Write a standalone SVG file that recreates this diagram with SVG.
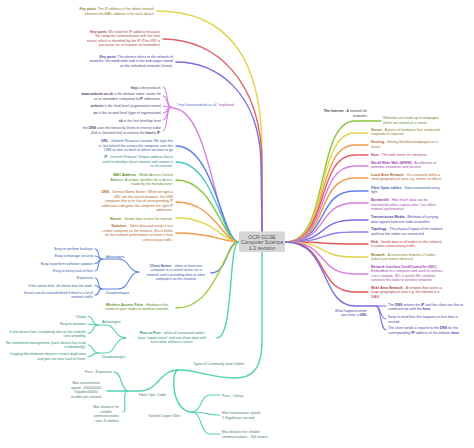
<svg xmlns="http://www.w3.org/2000/svg" width="474" height="448" viewBox="0 0 474 448">
<style>
text{font-family:"Liberation Sans",Arial,sans-serif;font-size:3.5px}
.b{font-weight:bold}
.e{text-anchor:end}
.m{text-anchor:middle}
path{fill:none;stroke-linecap:round}
.L{stroke-width:1.4}
.s{stroke-width:1.1}
.yel{stroke:#e3d54a}.red{stroke:#e0606a}.ind{stroke:#7b6ee0}.pink{stroke:#d780e0}.blu{stroke:#5a82e0}
.teal{stroke:#4cc5c8}.grn{stroke:#8cc63f}.org{stroke:#f19a4c}.mint{stroke:#52d1b2}.lime{stroke:#9bcc3c}
.hub{stroke:#e05a5a}.top{stroke:#9080ea}
.cy{fill:#8a7c25}.cr{fill:#a8444c}.ci{fill:#4b3f9e}.cp{fill:#5a4470}.cb{fill:#3a58a8}.ct{fill:#2a8686}
.cg{fill:#5e8a26}.co{fill:#b0652a}.cm{fill:#2b8a74}.cv{fill:#9a48a8}.ch{fill:#b03a3a}.ck{fill:#444}.cc{fill:#4a7a70}
</style>
<rect width="474" height="448" fill="#fff"/>
<g id="connectors">
<path class="L yel" d="M157,11 C225,11 262,55 262,150 L262,232"/>
<path class="L red" d="M163,39 C215,39 262,80 262,165 L262,232"/>
<path class="L ind" d="M176,62 C215,62 260,90 261,165 L262,232"/>
<path class="L pink" d="M172,108 C212,108 215,242 239,242"/>
<path class="s pink" d="M163,87 C168,87 166,107 171,107"/>
<path class="s pink" d="M163,96 C168,96 166,107 171,107"/>
<path class="s pink" d="M163,106 C168,106 166,107 171,107"/>
<path class="s pink" d="M163,113 C168,113 166,107 171,107"/>
<path class="s pink" d="M163,120 C168,120 166,107 171,107"/>
<path class="s pink" d="M163,131 C168,131 166,107 171,107"/>
<path class="L blu" d="M176,146 C215,146 222,242 239,242"/>
<path class="L teal" d="M176,162 C215,162 222,242 239,242"/>
<path class="L grn" d="M176,180 C215,180 222,242 239,242"/>
<path class="L org" d="M176,202 C215,202 222,242 239,242"/>
<path class="L yel" d="M176,218 C215,218 222,242 239,242"/>
<path class="L org" d="M176,233 C215,233 222,242 239,242"/>
<path class="L blu" d="M211,273 C228,273 226,242 239,242"/>
<path class="s blu" d="M139,272 C128,272 130,259 118,259 L102,259"/>
<path class="s blu" d="M139,272 C128,272 130,289 118,289 L102,289"/>
<path class="s blu" d="M102,259 C97,259 100,249 95,249"/>
<path class="s blu" d="M102,259 C97,259 100,256 95,256"/>
<path class="s blu" d="M102,259 C97,259 100,263.5 95,263.5"/>
<path class="s blu" d="M102,259 C97,259 100,271 95,271"/>
<path class="s blu" d="M102,289 C97,289 100,278 95,278"/>
<path class="s blu" d="M102,289 C97,289 100,285.5 95,285.5"/>
<path class="s blu" d="M102,289 C97,289 100,295 95,295"/>
<path class="L lime" d="M176,308 C218,308 224,242 239,242"/>
<path class="L mint" d="M217,338 C234,338 228,242 239,242"/>
<path class="s mint" d="M126,338 C114,338 116,325 106,325 L98,325"/>
<path class="s mint" d="M126,338 C114,338 116,353 106,353 L98,353"/>
<path class="s mint" d="M98,325 C92,325 94,316.5 88,316.5"/>
<path class="s mint" d="M98,325 C92,325 94,324 88,324"/>
<path class="s mint" d="M98,325 C92,325 94,333.5 88,333.5"/>
<path class="s mint" d="M98,353 C92,353 94,345 88,345"/>
<path class="s mint" d="M98,353 C92,353 94,356.5 88,356.5"/>
<path class="L mint" d="M262,252 L262,340 C262,372 250,378 235,378 C210,378 195,369 178,370"/>
<path class="L mint" d="M178,370 C160,370 158,391 140,391 L107,391"/>
<path class="s mint" d="M128,391 C121,391 122,372 114,372"/>
<path class="s mint" d="M128,391 C121,391 128,412 123,412"/>
<path class="L mint" d="M178,370 C170,372 172,412 192,412"/>
<path class="s mint" d="M192,412 C202,412 200,395 210,395 L220,395"/>
<path class="s mint" d="M192,412 C202,412 210,415 220,415"/>
<path class="s mint" d="M192,412 C202,412 200,434 210,434 L220,434"/>
<path class="L grn" d="M286,242 C330,242 315,121 355,121 L381,121"/>
<path class="L yel" d="M286,242 C330,242 315,133 355,133 L368,133"/>
<path class="L org" d="M286,242 C330,242 315,145 355,145 L368,145"/>
<path class="L red" d="M286,242 C330,242 315,155 355,155 L368,155"/>
<path class="L pink" d="M286,242 C330,242 315,166 355,166 L368,166"/>
<path class="L org" d="M286,242 C330,242 315,178 355,178 L368,178"/>
<path class="L blu" d="M286,242 C330,242 315,191 355,191 L368,191"/>
<path class="L pink" d="M286,242 C330,242 315,203 355,203 L368,203"/>
<path class="L ind" d="M286,242 C330,242 315,220 355,220 L368,220"/>
<path class="L top" d="M286,242 C330,242 315,232 355,232 L368,232"/>
<path class="L hub" d="M286,242 C330,242 315,244 355,244 L368,244"/>
<path class="L yel" d="M286,242 C330,242 315,257 355,257 L368,257"/>
<path class="L pink" d="M286,242 C330,242 315,274 355,274 L368,274"/>
<path class="L hub" d="M286,242 C330,242 315,292 355,292 L368,292"/>
<path class="L ind" d="M286,242 C330,242 320,306 355,306 L376,306"/>
<path class="s ind" d="M376,306 L386,306"/>
<path class="s ind" d="M376,306 C381,306 380,319 386,319"/>
<path class="s ind" d="M376,306 C381,306 380,330 386,330"/>
</g>
<g id="center">
<rect x="239" y="231.5" width="46" height="20.5" fill="#d6d6d6"/>
<text class="m" x="262" y="238.5" style="font-size:5.2px" fill="#555">OCR GCSE</text>
<text class="m" x="262" y="244" style="font-size:5.2px" fill="#555">Computer Science</text>
<text class="m" x="262" y="249.5" style="font-size:5.2px" fill="#555">1.3 revision</text>
</g>
<g id="kp1" class="cy"><text class="e" x="154" y="10"><tspan class="b">Key point:</tspan> The IP address is the whole network</text><text class="e" x="154" y="14.5">whereas the MAC address is for each device</text></g>
<g id="kp2" class="cr"><text class="e" x="160" y="32.5"><tspan class="b">Key point:</tspan> We need the IP address because</text><text class="e" x="160" y="37">the computer communicates with the host</text><text class="e" x="160" y="41.5">server, which is identified by the IP (The URL is</text><text class="e" x="160" y="46">just easier for us humans to remember)</text></g>
<g id="kp3" class="ci"><text class="e" x="173" y="57.5"><tspan class="b">Key point:</tspan> The internet refers to the network of</text><text class="e" x="173" y="62">networks, the world wide web is the web pages stored</text><text class="e" x="173" y="66.5">on the individual networks (hosts).</text></g>
<g id="urlx"><text x="177" y="106"><tspan fill="#5b6ed8">"http://www.website.ac.uk"</tspan><tspan fill="#9a48a8"> explained</tspan></text></g>
<g id="urlparts" class="cp">
<text class="e" x="161" y="88.5"><tspan class="b">http</tspan> is the protocol.</text>
<text class="e" x="161" y="95"><tspan class="b">www.website.ac.uk</tspan> is the domain name: easier for</text>
<text class="e" x="161" y="99.5">us to remember compared to <tspan class="b">IP</tspan> addresses.</text>
<text class="e" x="161" y="107"><tspan class="b">website</tspan> is the third-level (organisation name)</text>
<text class="e" x="161" y="114"><tspan class="b">ac</tspan> is the second level (type of organisation)</text>
<text class="e" x="161" y="121.5"><tspan class="b">uk</tspan> is the first level/top level</text>
<text class="e" x="161" y="129">the <tspan class="b">DNS</tspan> uses the hierarchy levels in reverse order</text>
<text class="e" x="161" y="133.5">(3rd is checked first) to retrieve the <tspan class="b">host's IP</tspan>.</text>
</g>
<g id="url" class="cb"><text class="e" x="173" y="142"><tspan class="b">URL</tspan> - Uniform Resource Locator. We type this</text><text class="e" x="173" y="146.5">in, but behind the scenes the computer uses the</text><text class="e" x="173" y="151">DNS to take us back to where we want to go</text></g>
<g id="ip" class="ct"><text class="e" x="173" y="158"><tspan class="b">IP</tspan> - Internet Protocol: Unique address that is</text><text class="e" x="173" y="162.5">used to identify a local network and connect it</text><text class="e" x="173" y="167">to the internet.</text></g>
<g id="mac" class="cg"><text class="e" x="173" y="176"><tspan class="b">MAC Address</tspan> - Media Access Control</text><text class="e" x="173" y="180.5">Address. A unique identifier for a device,</text><text class="e" x="173" y="185">made by the manufacturer.</text></g>
<g id="dns" class="co"><text class="e" x="173" y="193"><tspan class="b">DNS</tspan> - Domain Name Server: When we type a</text><text class="e" x="173" y="197.5">URL into the search browser, the DNS</text><text class="e" x="173" y="202">compares this to its lute of corresponding IP</text><text class="e" x="173" y="206.5">addresses and gives the computer the right IP</text><text class="e" x="173" y="211">addresses.</text></g>
<g id="router" class="cy"><text class="e" x="173" y="219.5"><tspan class="b">Router</tspan> - Sends data across the internet.</text></g>
<g id="switches" class="co"><text class="e" x="173" y="227"><tspan class="b">Switches</tspan> - Takes data and sends it to a</text><text class="e" x="173" y="231.5">certain computer on the network, this is better</text><text class="e" x="173" y="236">for the network performance as there is less</text><text class="e" x="173" y="240.5">unnecessary traffic.</text></g>
<g id="clientserver" class="cb"><text class="m" x="176" y="266.5"><tspan class="b">Client-Server</tspan> - when at least one</text><text class="m" x="176" y="271">computer is a central server on a</text><text class="m" x="176" y="275.5">network and is providing data to other</text><text class="m" x="176" y="280">computers on the network.</text></g>
<g id="cs-adv" class="cb"><text x="106" y="257.5">Advantages</text>
<text class="e" x="93" y="250">Easy to perform backups</text><text class="e" x="93" y="257">Easy to manage security</text><text class="e" x="93" y="264.5">Easy to perform software updates</text><text class="e" x="93" y="272">Easy to keep track of files</text></g>
<g id="cs-dis" class="cb"><text x="106" y="293.5">Disadvantages</text>
<text class="e" x="93" y="279">Expensive</text><text class="e" x="93" y="286.5">If the server fails, all clients lose the work.</text><text class="e" x="93" y="294">Server can be overwhelmed if there's a lot of</text><text class="e" x="93" y="298">network traffic</text></g>
<g id="wap" class="cg"><text class="m" x="137" y="305.5"><tspan class="b">Wireless Access Point</tspan> - Hardware that</text><text class="m" x="137" y="310">connects your nodes to wireless network.</text></g>
<g id="p2p" class="cm"><text class="m" x="172" y="334"><tspan class="b">Peer-to-Peer</tspan> - when all connected nodes</text><text class="m" x="172" y="338.5">have "equal status" and can share data with</text><text class="m" x="172" y="343">each other without a server.</text></g>
<g id="p2p-adv" class="cm"><text x="102" y="322.5">Advantages</text>
<text class="e" x="86" y="317.5">Cheap</text><text class="e" x="86" y="325">Easy to maintain</text><text class="e" x="86" y="332.5">If one device fails, everything else on the network</text><text class="e" x="86" y="337">runs smoothly.</text></g>
<g id="p2p-dis" class="cm"><text x="102" y="357.5">Disadvantages</text>
<text class="e" x="86" y="343.5">No centralised management (each device has to do</text><text class="e" x="86" y="348">it individually).</text><text class="e" x="86" y="355">Copying files between devices creates duplicates</text><text class="e" x="86" y="359.5">and you can lose track of them.</text></g>
<g id="cables" class="cc"><text x="193" y="364.5">Types of Commonly used Cables</text></g>
<g id="fibre" class="cc"><text x="139" y="395.5">Fibre Optic Cable</text>
<text class="e" x="112" y="372.5">Price - Expensive</text>
<text class="m" x="86" y="384">Max transmission</text><text class="m" x="86" y="388.5">speed - 400000000</text><text class="m" x="86" y="393">Gigabits/40000</text><text class="m" x="86" y="397.5">terabits per second</text>
<text class="m" x="106" y="408">Max distance for</text><text class="m" x="106" y="412.5">reliable</text><text class="m" x="106" y="417">communications</text><text class="m" x="106" y="421.5">- over 2k meters</text></g>
<g id="twisted" class="cc"><text x="148" y="416.5">Twisted Copper Wire</text>
<text x="222" y="396.5">Price - Cheap</text>
<text x="222" y="414">Max transmission speed -</text><text x="222" y="418.5">1 Gigabit per second</text>
<text x="222" y="433">Max distance for reliable</text><text x="222" y="437.5">communications - 100 meters</text></g>
<g id="internet"><text class="e ck" x="367" y="112"><tspan class="b">The Internet</tspan> - A network for</text><text class="e ck" x="367" y="116.5">networks</text>
<text class="cg" x="383" y="119">Websites are made up of webpages</text><text class="cg" x="383" y="123.5">which are stored on a server</text></g>
<g id="server" class="cy"><text x="371" y="130.5"><tspan class="b">Server</tspan> - A piece of hardware that sends and</text><text x="371" y="135">responds to requests</text></g>
<g id="hosting" class="co"><text x="371" y="143"><tspan class="b">Hosting</tspan> - Storing files/data/webpages on a</text><text x="371" y="147.5">server</text></g>
<g id="host" class="cr"><text x="371" y="156"><tspan class="b">Host</tspan> - The web server it's stored on</text></g>
<g id="www" class="cv"><text x="371" y="163.5"><tspan class="b">World Wide Web (WWW)</tspan> - A collection of</text><text x="371" y="168">websites hosted on web servers</text></g>
<g id="lan" class="co"><text x="371" y="175.5"><tspan class="b">Local Area Network</tspan> - It's a network within a</text><text x="371" y="180">small geographical area e.g. homes or offices</text></g>
<g id="fibrecables" class="cb"><text x="371" y="188.5"><tspan class="b">Fibre Optic cables</tspan> - Data transmitted using</text><text x="371" y="193">light</text></g>
<g id="bandwidth" class="cv"><text x="371" y="201"><tspan class="b">Bandwidth</tspan> - How much data can be</text><text x="371" y="205.5">transmitted within a given time. Can affect</text><text x="371" y="210">network performance.</text></g>
<g id="media" class="ci"><text x="371" y="218"><tspan class="b">Transmission Media</tspan> - Methods of carrying</text><text x="371" y="222.5">data signals from one node to another</text></g>
<g id="topology" class="ci"><text x="371" y="230"><tspan class="b">Topology</tspan> - The physical layout of the network</text><text x="371" y="234.5">and how the nodes are connected</text></g>
<g id="hub" class="ch"><text x="371" y="242.5"><tspan class="b">Hub</tspan> - Sends data to all nodes on the network,</text><text x="371" y="247">it causes unnecessary traffic.</text></g>
<g id="network" class="cy"><text x="371" y="255.5"><tspan class="b">Network</tspan> - A connection between 2 nodes</text><text x="371" y="260">(which just means devices)</text></g>
<g id="nic" class="cv"><text x="371" y="267.5"><tspan class="b">Network Interface Card/Controller (NIC)</tspan> -</text><text x="371" y="272">Embedded in a computer and used to connect</text><text x="371" y="276.5">it to a network. NIC is wired, NIC wireless</text><text x="371" y="281">connects the node to wireless networks</text></g>
<g id="wan" class="ch"><text x="371" y="288.5"><tspan class="b">Wide Area Network</tspan> - A network that covers a</text><text x="371" y="293">large geographical area e.g. the internet is a</text><text x="371" y="297.5">WAN</text></g>
<g id="urlentry" class="ci"><text class="e" x="367" y="311.5">What happens when</text><text class="e" x="367" y="316">you enter a <tspan class="b">URL</tspan></text>
<text x="388" y="305.5">The <tspan class="b">DNS</tspan> returns the <tspan class="b">IP</tspan> and the client use this to</text><text x="388" y="310">communicate with the <tspan class="b">host</tspan></text>
<text x="388" y="318">Keep in mind that this happens in less than a</text><text x="388" y="322.5">second</text>
<text x="388" y="329">The client sends a request to the <tspan class="b">DNS</tspan> for the</text><text x="388" y="333.5">corresponding <tspan class="b">IP</tspan> address of the website <tspan class="b">host</tspan></text></g>
</svg>
